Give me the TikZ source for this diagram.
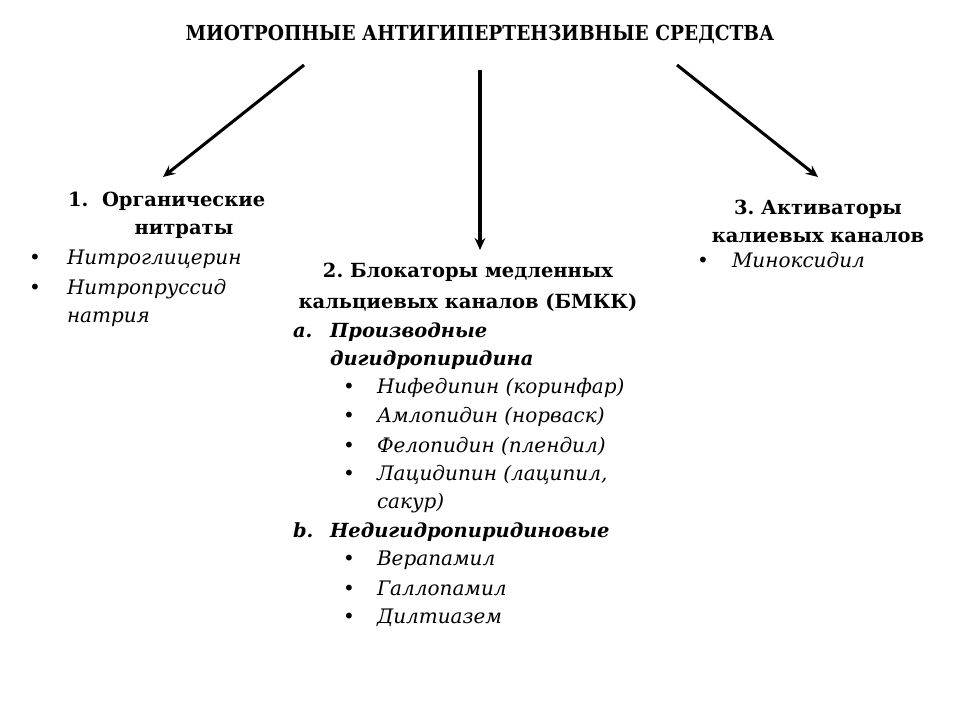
\documentclass[tikz,border=0pt]{standalone}
\usepackage{fontspec}
\setmainfont{DejaVu Serif}
\usetikzlibrary{arrows.meta}
\frenchspacing
\tikzset{
  px/.style={x={0.75pt},y={-0.75pt}},
  txt/.style={inner sep=0pt, outer sep=0pt, font=\fontsize{15}{18}\selectfont},
  bd/.style={txt, font=\fontsize{14.6}{18}\selectfont\bfseries},
  it/.style={txt, font=\fontsize{15}{18}\selectfont\itshape},
  bit/.style={txt, font=\fontsize{14.6}{18}\selectfont\bfseries\itshape},
  ttl/.style={inner sep=0pt, font=\fontsize{15.5}{18}\selectfont\bfseries},
  arr/.style={line width=2.3pt, -{Stealth[length=9pt,width=8pt,inset=3pt]}},
  bul/.style={inner sep=0pt, font=\fontsize{15}{18}\selectfont},
}
\begin{document}
\begin{tikzpicture}[px]
\useasboundingbox (0,0) rectangle (960,720);
\fill[white] (0,0) rectangle (960,720);
% title
\node[ttl, anchor=base] (title) at (480,41) {\scalebox{0.9}[1]{МИОТРОПНЫЕ АНТИГИПЕРТЕНЗИВНЫЕ СРЕДСТВА}};
\coordinate (s1) at (304,65);
\coordinate (s2) at (480,70);
\coordinate (s3) at (677,65);
\coordinate (e1) at (163,177);
\coordinate (e2) at (480,250);
\coordinate (e3) at (818,177);
\draw[arr] (s1) -- (e1);
\draw[arr] (s2) -- (e2);
\draw[arr] (s3) -- (e3);
% left
\node[bd, anchor=base west] (l1n) at (68,207) {1.};
\node[bd, anchor=base west] (l1a) at (102,207) {Органические};
\node[bd, anchor=base] (l1b) at (184,235) {нитраты};
\node[bul, anchor=base] (lb1) at (35,265) {•};
\node[it, anchor=base west] (l2) at (67,265) {Нитроглицерин};
\node[bul, anchor=base] (lb2) at (35,295) {•};
\node[it, anchor=base west] (l3) at (67,295) {Нитропруссид};
\node[it, anchor=base west] (l4) at (67,322) {натрия};
% middle
\node[bd, anchor=base] (m1) at (468,278) {2. Блокаторы медленных};
\node[bd, anchor=base] (m2) at (468,308) {кальциевых каналов (БМКК)};
\node[bit, anchor=base west] (ma) at (293,337) {a.};
\node[bit, anchor=base west] (m3) at (330,337) {Производные};
\node[bit, anchor=base west] (m4) at (330,365) {дигидропиридина};
\node[bul, anchor=base] (mb1) at (349,393) {•};
\node[it, anchor=base west] (m5) at (377,393) {Нифедипин (коринфар)};
\node[bul, anchor=base] (mb2) at (349,422) {•};
\node[it, anchor=base west] (m6) at (377,422) {Амлопидин (норваск)};
\node[bul, anchor=base] (mb3) at (349,452) {•};
\node[it, anchor=base west] (m7) at (377,452) {Фелопидин (плендил)};
\node[bul, anchor=base] (mb4) at (349,480) {•};
\node[it, anchor=base west] (m8) at (377,480) {Лацидипин (лаципил,};
\node[it, anchor=base west] (m9) at (377,508) {сакур)};
\node[bit, anchor=base west] (mb) at (293,537) {b.};
\node[bit, anchor=base west] (m10) at (330,537) {Недигидропиридиновые};
\node[bul, anchor=base] (mb5) at (349,565) {•};
\node[it, anchor=base west] (m11) at (377,565) {Верапамил};
\node[bul, anchor=base] (mb6) at (349,595) {•};
\node[it, anchor=base west] (m12) at (377,595) {Галлопамил};
\node[bul, anchor=base] (mb7) at (349,623) {•};
\node[it, anchor=base west] (m13) at (377,623) {Дилтиазем};
% right
\node[bd, anchor=base] (r1) at (818,215) {3. Активаторы};
\node[bd, anchor=base] (r2) at (818,243) {калиевых каналов};
\node[bul, anchor=base] (rb1) at (703,268) {•};
\node[it, anchor=base west] (r3) at (732,268) {Миноксидил};
\end{tikzpicture}
\end{document}
